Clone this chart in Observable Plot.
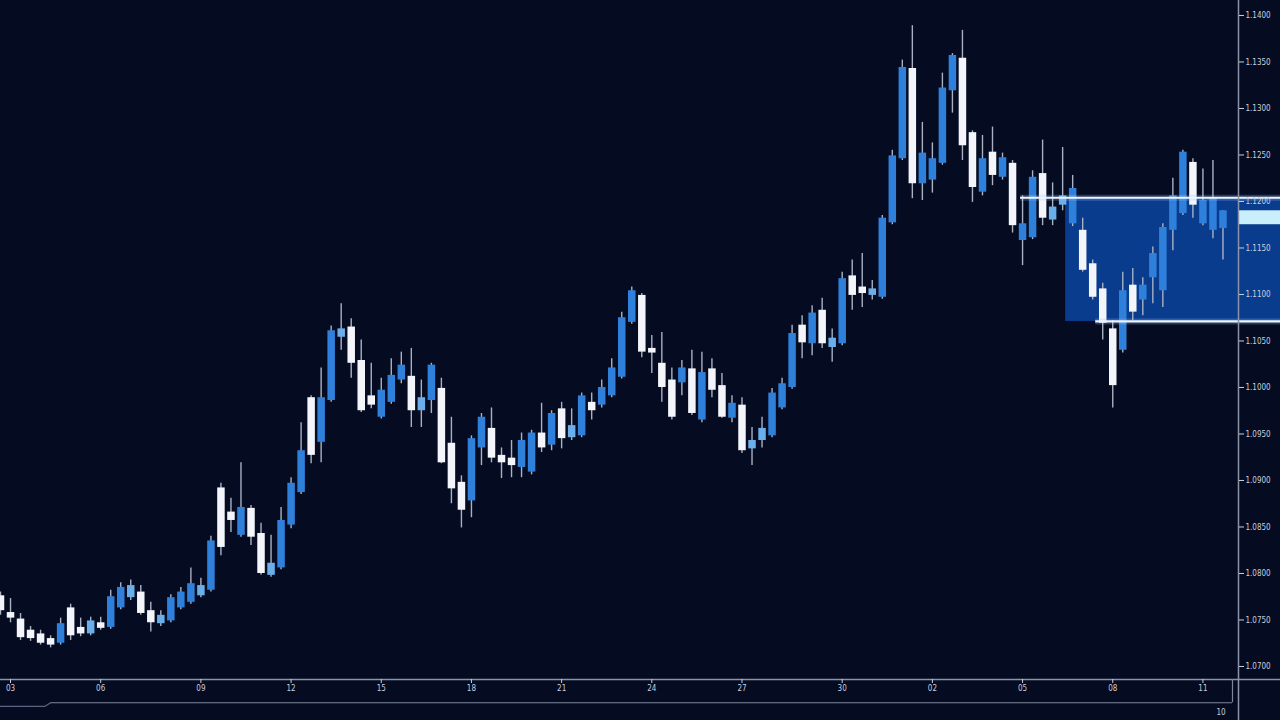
<!DOCTYPE html>
<html>
<head>
<meta charset="utf-8">
<script src="https://cdn.jsdelivr.net/npm/d3@7"></script>
<script src="https://cdn.jsdelivr.net/npm/@observablehq/plot@0.6"></script>
<style>
  html, body { margin: 0; padding: 0; background: #050c22; overflow: hidden; }
  #chart svg { display: block; overflow: visible; }
</style>
</head>
<body>
<div id="chart"></div>
<script>
// ---- Data ----
const open = [1.0776,1.0758,1.0751,1.0739,1.0735,1.0730,1.0725,1.0763,1.0742,1.0735,1.0747,1.0742,1.0763,1.0774,1.0780,1.0760,1.0746,1.0749,1.0763,1.0769,1.0776,1.0782,1.0892,1.0866,1.0841,1.0870,1.0843,1.0798,1.0806,1.0852,1.0887,1.0989,1.0941,1.0986,1.1054,1.1065,1.1029,1.0991,1.0968,1.0984,1.1008,1.1012,1.0975,1.0986,1.0999,1.0940,1.0898,1.0878,1.0935,1.0956,1.0927,1.0924,1.0914,1.0909,1.0951,1.0938,1.0977,1.0946,1.0948,1.0984,1.0981,1.0991,1.1011,1.1070,1.1099,1.1042,1.1026,1.1008,1.1005,1.1020,1.0965,1.1020,1.1002,1.0967,1.0981,1.0934,1.0943,1.0948,1.0978,1.1000,1.1067,1.1047,1.1083,1.1043,1.1047,1.1120,1.1108,1.1099,1.1097,1.1177,1.1246,1.1343,1.1219,1.1223,1.1241,1.1319,1.1354,1.1274,1.1210,1.1253,1.1226,1.1241,1.1158,1.1161,1.1230,1.1180,1.1196,1.1176,1.1169,1.1133,1.1106,1.1063,1.1040,1.1110,1.1094,1.1118,1.1104,1.1169,1.1187,1.1242,1.1176,1.1169,1.1171];
const close = [1.0760,1.0752,1.0731,1.0730,1.0725,1.0723,1.0746,1.0733,1.0735,1.0749,1.0741,1.0775,1.0785,1.0787,1.0757,1.0747,1.0755,1.0774,1.0780,1.0789,1.0787,1.0835,1.0828,1.0857,1.0871,1.0839,1.0800,1.0811,1.0857,1.0897,1.0932,1.0927,1.0989,1.1061,1.1063,1.1026,1.0975,1.0981,1.0997,1.1013,1.1024,1.0975,1.0989,1.1024,1.0919,1.0891,1.0868,1.0945,1.0968,1.0924,1.0919,1.0916,1.0943,1.0951,1.0935,1.0972,1.0945,1.0959,1.0991,1.0975,1.1000,1.1021,1.1075,1.1104,1.1038,1.1037,1.1000,1.0968,1.1021,1.0972,1.1016,1.0997,1.0968,1.0983,1.0932,1.0943,1.0956,1.0994,1.1004,1.1058,1.1048,1.1080,1.1047,1.1053,1.1117,1.1099,1.1101,1.1106,1.1182,1.1249,1.1344,1.1219,1.1252,1.1246,1.1322,1.1357,1.1260,1.1215,1.1246,1.1228,1.1247,1.1174,1.1176,1.1226,1.1182,1.1194,1.1206,1.1214,1.1126,1.1097,1.1069,1.1002,1.1104,1.1081,1.1110,1.1144,1.1172,1.1206,1.1253,1.1196,1.1201,1.1204,1.1190];
const high = [1.0780,1.0773,1.0757,1.0743,1.0739,1.0733,1.0752,1.0767,1.0752,1.0753,1.0753,1.0782,1.0790,1.0793,1.0787,1.0769,1.0760,1.0777,1.0785,1.0806,1.0795,1.0840,1.0897,1.0881,1.0919,1.0873,1.0854,1.0841,1.0871,1.0903,1.0962,1.0991,1.1021,1.1066,1.1090,1.1074,1.1051,1.1026,1.1010,1.1031,1.1038,1.1042,1.1008,1.1026,1.1010,1.0968,1.0905,1.0948,1.0972,1.0978,1.0935,1.0943,1.0951,1.0954,1.0983,1.0975,1.0984,1.0977,1.0994,1.0994,1.1008,1.1031,1.1081,1.1108,1.1101,1.1056,1.1059,1.1021,1.1029,1.1040,1.1038,1.1031,1.1015,1.0991,1.0989,1.0957,1.0968,1.0999,1.1010,1.1067,1.1077,1.1088,1.1096,1.1063,1.1124,1.1137,1.1144,1.1115,1.1185,1.1255,1.1352,1.1389,1.1285,1.1263,1.1338,1.1359,1.1384,1.1276,1.1271,1.1280,1.1252,1.1244,1.1206,1.1233,1.1266,1.1220,1.1258,1.1228,1.1182,1.1137,1.1112,1.1072,1.1124,1.1128,1.1118,1.1151,1.1176,1.1225,1.1255,1.1246,1.1235,1.1244,1.1190];
const low = [1.0755,1.0747,1.0728,1.0727,1.0723,1.0720,1.0723,1.0728,1.0732,1.0733,1.0739,1.0740,1.0761,1.0771,1.0755,1.0737,1.0743,1.0747,1.0761,1.0767,1.0774,1.0780,1.0819,1.0844,1.0839,1.0830,1.0798,1.0796,1.0804,1.0848,1.0885,1.0918,1.0919,1.0984,1.1040,1.1010,1.0973,1.0977,1.0966,1.0982,1.1004,1.0957,1.0957,1.0972,1.0918,1.0875,1.0849,1.0860,1.0916,1.0919,1.0902,1.0903,1.0903,1.0906,1.0930,1.0932,1.0934,1.0943,1.0946,1.0965,1.0978,1.0989,1.1009,1.1068,1.1032,1.1015,1.0984,1.0965,1.0991,1.0970,1.0962,1.0989,1.0967,1.0962,1.0929,1.0916,1.0935,1.0946,1.0976,1.0998,1.1031,1.1034,1.1042,1.1027,1.1045,1.1083,1.1086,1.1094,1.1095,1.1175,1.1244,1.1203,1.1201,1.1209,1.1239,1.1295,1.1244,1.1199,1.1206,1.1217,1.1223,1.1166,1.1131,1.1159,1.1174,1.1174,1.1190,1.1173,1.1124,1.1094,1.1051,1.0978,1.1037,1.1072,1.1077,1.1090,1.1086,1.1147,1.1185,1.1182,1.1174,1.1160,1.1137];

const priceTicks = [1.1400,1.1350,1.1300,1.1250,1.1200,1.1150,1.1100,1.1050,1.1000,1.0950,1.0900,1.0850,1.0800,1.0750,1.0700];
const timeTickBars = [1,10,20,29,38,47,56,65,74,84,93,102,111,120];
const timeTickLabels = ["03","06","09","12","15","18","21","24","27","30","02","05","08","11"];

// zone highlighted on the right
const zoneTop = 1.1204;
const zoneBottom = 1.1071;
const zoneStartBar = 106.3;
const zoneTopLineStart = 101.8;
const zoneBottomLineStart = 109.3;
const lastPrice = 1.1190;
const lastPriceLow = 1.1175;

// ---- Build candles table ----
const candles = open.map((o, i) => ({i, open: o, close: close[i], high: high[i], low: low[i]}));
const colorOf = d => d.close >= d.open
  ? (Math.abs(d.close - d.open) < 0.0015 ? "#6aaeea" : "#2f80da")
  : "#f3f5fa";

const xMax = 123.55;   // right edge of the plotting area (in bars)
const xFar = 128;      // beyond the right axis
const yMin = 1.0686, yMax = 1.14161;

const chart = Plot.plot({
  width: 1280,
  height: 720,
  marginTop: 0,
  marginBottom: 41,
  marginLeft: 0,
  marginRight: 42,
  style: {background: "#050c22", color: "#c8cfdd", fontFamily: "'Liberation Sans Narrow', 'DejaVu Sans Condensed', sans-serif"},
  x: {type: "linear", domain: [0, xMax], axis: null, label: null},
  y: {domain: [yMin, yMax], axis: null, label: null},
  marks: [
    // highlighted zone
    Plot.rect([0], {x1: zoneStartBar, x2: xFar, y1: zoneBottom, y2: zoneTop, fill: "#0a3c8e"}),
    // wicks
    Plot.ruleX(candles, {x: "i", y1: "low", y2: "high", stroke: "#a9b1c3", strokeWidth: 1.4}),
    // bodies
    Plot.ruleX(candles, {x: "i", y1: "open", y2: "close", stroke: colorOf, strokeWidth: 7.5,
      strokeLinecap: "butt"}),
    // zone boundary lines with glow
    Plot.ruleY([zoneTop], {x1: zoneTopLineStart, x2: xFar, stroke: "#9cc8ff", strokeWidth: 6, strokeOpacity: 0.25}),
    Plot.ruleY([zoneTop], {x1: zoneTopLineStart, x2: xFar, stroke: "#eef4ff", strokeWidth: 2.2}),
    Plot.ruleY([zoneBottom], {x1: zoneBottomLineStart, x2: xFar, stroke: "#9cc8ff", strokeWidth: 6, strokeOpacity: 0.25}),
    Plot.ruleY([zoneBottom], {x1: zoneBottomLineStart, x2: xFar, stroke: "#eef4ff", strokeWidth: 2.2}),
    // last price marker on the axis
    Plot.rect([0], {x1: xMax, x2: xFar, y1: lastPriceLow, y2: lastPrice, fill: "#c9eefc"}),
    // axis frame lines
    Plot.ruleX([xMax], {y1: 1.0640, y2: yMax, stroke: "#8a93a8", strokeWidth: 1.5}),
    Plot.ruleY([yMin], {x1: 0, x2: xFar, stroke: "#8a93a8", strokeWidth: 1.5}),
    Plot.ruleY([1.0661], {x1: 5, x2: 122.95, stroke: "#7d869b", strokeWidth: 1.2}),
    Plot.ruleX([122.95], {y1: 1.0661, y2: yMin, stroke: "#7d869b", strokeWidth: 1.2}),
    Plot.line([[0, 1.0657], [4.4, 1.0657], [5, 1.0661]], {stroke: "#5c6680", strokeWidth: 1.2}),
    // axes
    Plot.axisY(priceTicks, {anchor: "right", label: null, tickSize: 5, tickPadding: 2, fontSize: 8,
      tickFormat: d3.format(".4f")}),
    Plot.axisX(timeTickBars, {anchor: "bottom", label: null, tickSize: 4, tickPadding: 2, fontSize: 8,
      tickFormat: d => timeTickLabels[timeTickBars.indexOf(d)]}),
    Plot.text(["10"], {x: 121.8, y: 1.06505, fontSize: 8, fill: "#c8cfdd"})
  ]
});

document.getElementById("chart").appendChild(chart);
</script>
</body>
</html>
